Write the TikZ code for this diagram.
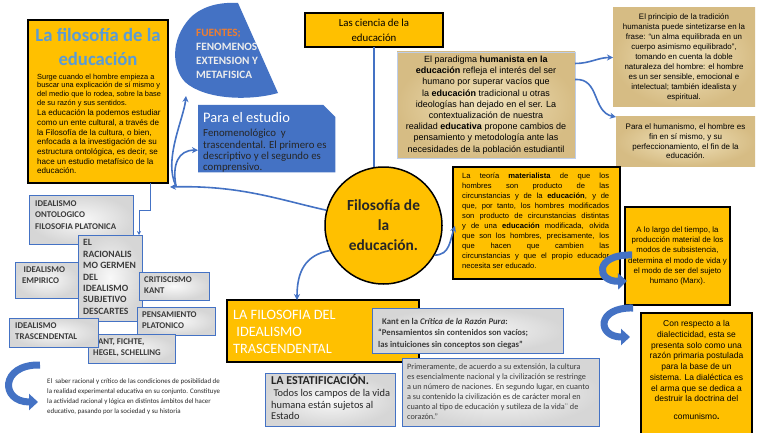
\documentclass[tikz,border=0pt]{standalone}
\usepackage{fontspec}
\setmainfont{Carlito}
\newfontfamily\arial{Liberation Sans}
\usetikzlibrary{arrows.meta}
\definecolor{yel}{HTML}{FFC000}
\definecolor{blu}{HTML}{4472C4}
\definecolor{ttl}{HTML}{5B9BD5}
\definecolor{org}{HTML}{ED7D31}
\definecolor{papin}{HTML}{F1E3BC}
\definecolor{papout}{HTML}{D6BC84}
\definecolor{dk}{HTML}{262626}
\definecolor{mtx}{HTML}{3B3B3B}
\newcommand{\fs}[2]{\fontsize{#1}{#2}\selectfont}
\begin{document}
\begin{tikzpicture}[x=1pt,y=-1pt,
 ybox/.style={draw=black,line width=1.8pt,fill=yel,anchor=north west,inner sep=0pt,outer sep=0pt},
 paper/.style={inner color=papin,outer color=papout,anchor=north west,inner sep=0pt,outer sep=0pt},
 marble/.style={draw=blu,line width=0.9pt,inner color=gray!5,outer color=gray!32,anchor=north west,inner sep=0pt,outer sep=0pt},
 tl/.style={anchor=north west,inner sep=0pt,align=left},
 tc/.style={inner sep=0pt,align=center},
 conn/.style={draw=blu,line width=1.6pt,-{Stealth[length=6pt,width=6pt]}},
 thinconn/.style={draw=blu,line width=0.8pt,-{Stealth[length=4pt,width=4pt]}},
 bigarrow/.style={draw=blu,line width=7pt,-{Triangle[length=9pt,width=16pt]}},
 mtext/.style={tl,font=\bfseries\fs{8.8}{11.5},text=mtx}
]
\useasboundingbox (0,0) rectangle (768,433);
\fill[white] (0,0) rectangle (768,433);

% FUENTES shape
\fill[blu] (238,3) -- (278,93) .. controls (250,101) and (205,100) .. (185,82)
  .. controls (172,68) and (170,40) .. (190,18) .. controls (203,5) and (222,2) .. (238,3) -- cycle;
\node[tl,font=\bfseries\fs{11.2}{14},text=white!85!gray] (fut) at (196,28.5) {\textcolor{org}{FUENTES;}\\FENOMENOS\\EXTENSION Y\\METAFISICA};
\coordinate (fuB) at (186,96);

% top-left box
\node[ybox,minimum width=140,minimum height=163] (b1) at (28,20) {};
\node[tc,anchor=north,font=\bfseries\fs{18.7}{24},text=ttl] (b1t) at (98,28) {La filosofía de la\\educación};
\node[tl,font=\arial\fs{7.4}{8.8}] (b1p) at (37,73.5) {Surge cuando el hombre empieza a\\buscar una explicación de sí mismo y\\del medio que lo rodea, sobre la base\\de su razón y sus sentidos.};
\node[tl,font=\arial\fs{8.1}{9.7}] (b1q) at (37,109.5) {La educación la podemos estudiar\\como un ente cultural, a través de\\la Filosofía de la cultura, o bien,\\enfocada a la investigación de su\\estructura ontológica, es decir, se\\hace un estudio metafísico de la\\educación.};

% Para el estudio
\node[anchor=north west,inner sep=0pt,minimum width=137,minimum height=67] (pe) at (198,105) {};
\fill[blu] (pe.north west) -- ([xshift=-12pt]pe.north east) -- ([yshift=-12pt]pe.north east) -- (pe.south east) -- (pe.south west) -- cycle;
\node[tl,font=\fs{14.5}{15},text=white] (pet) at (203,112) {Para el estudio};
\node[tl,font=\fs{10.8}{11.4},text=dk] (peb) at (203,129) {Fenomenológico\ \ y\\trascendental. El primero es\\descriptivo y el segundo es\\comprensivo.};

% Las ciencia
\node[ybox,minimum width=138,minimum height=34] (lc) at (305,13) {};
\node[tc,font=\fs{10.8}{15}] (lct) at (lc.center) {Las ciencia de la\\educación};

% paradigm
\node[paper,draw=blu!35,line width=0.8pt,minimum width=178,minimum height=106] (pb) at (397,52) {};
\node[tc,font=\arial\fs{9}{11.2}] (pbt) at (pb.center) {El paradigma \textbf{humanista en la}\\\textbf{educación} refleja el interés del ser\\humano por superar vacíos que\\la \textbf{educación} tradicional u otras\\ideologías han dejado en el ser. La\\contextualización de nuestra\\realidad \textbf{educativa} propone cambios de\\pensamiento y metodología ante las\\necesidades de la población estudiantil};

% right papyrus boxes
\node[paper,minimum width=142,minimum height=99] (r1) at (613,8) {};
\node[tc,font=\arial\fs{7.9}{9.9}] (r1t) at (r1.center) {El principio de la tradición\\humanista puede sintetizarse en la\\frase: “un alma equilibrada en un\\cuerpo asimismo equilibrado”,\\tomando en cuenta la doble\\naturaleza del hombre: el hombre\\es un ser sensible, emocional e\\intelectual; también idealista y\\espiritual.};
\node[paper,minimum width=139,minimum height=49] (r2) at (616,117) {};
\node[tc,font=\arial\fs{8}{9.7}] (r2t) at (r2.center) {Para el humanismo, el hombre es\\fin en sí mismo, y su\\perfeccionamiento, el fin de la\\educación.};
\draw[conn] (pb.25) to[out=0,in=180] (r1.west);
\draw[conn] (pb.16) .. controls (600,78) and (592,112) .. (r2.north west);

% materialista
\node[ybox,minimum width=167,minimum height=112] (mb) at (453,167) {};
\node[tl,text width=147pt,align=justify,font=\arial\fs{7.6}{10}] (mbt) at (462,172.5) {La teoría \textbf{materialista} de que los\linebreak hombres son producto de las\linebreak circunstancias y de la \textbf{educación}, y de\linebreak que, por tanto, los hombres modificados\linebreak son producto de circunstancias distintas\linebreak y de una \textbf{educación} modificada, olvida\linebreak que son los hombres, precisamente, los\linebreak que hacen que cambien las\linebreak circunstancias y que el propio educador\linebreak necesita ser educado.};

% A lo largo
\node[ybox,minimum width=105,minimum height=98] (ml) at (625,207) {};
\node[tc,font=\arial\fs{7.85}{10.2}] (mlt) at (ml.center) {A lo largo del tiempo, la\\producción material de los\\modos de subsistencia,\\determina el modo de vida y\\el modo de ser del sujeto\\humano (Marx).};

% Con respecto
\node[ybox,minimum width=111,minimum height=130] (cr) at (641,313) {};
\node[tc,anchor=north,font=\arial\fs{8.5}{10.7}] (crt) at (696.5,320.5) {Con respecto a la\\dialecticidad, esta se\\presenta solo como una\\razón primaria postulada\\para la base de un\\sistema. La dialéctica es\\el arma que se dedica a\\destruir la doctrina del\\[7pt]comunismo\textbf{.}};

% thick curved arrows
\coordinate (a1s) at (632,255); \coordinate (a1e) at (627,281);
\draw[bigarrow] (a1s) .. controls (594,254) and (596,282) .. (a1e);
\coordinate (a2s) at (633,308); \coordinate (a2e) at (630,337);
\draw[bigarrow] (a2s) .. controls (596,307) and (597,337) .. (a2e);
\coordinate (a3s) at (40,365); \coordinate (a3e) at (38,402);
\draw[bigarrow] (a3s) .. controls (0,364) and (0,402) .. (a3e);

% central circle
\draw[blu,line width=2pt] (lc.south) -- (lc.south |- 0,170);
\node[circle,draw=black,line width=1.5pt,fill=yel,minimum size=117,inner sep=0pt,font=\bfseries\fs{15.4}{20},align=center,text=dk] (fc) at (383.5,225.5) {Filosofía de\\la\\educación.};

% idealismo trascendental
\node[ybox,minimum width=192,minimum height=62] (it) at (227,300) {};
\node[tl,font=\fs{14.3}{17},text=white] (itt) at (233,310.5) {LA FILOSOFIA DEL\\\ IDEALISMO\\TRASCENDENTAL};

% connectors from circle
\draw[conn] (fc.165) .. controls (280,200) and (240,185) .. ([xshift=2pt,yshift=-4pt]b1.south east);
\coordinate (jn) at (176,186);
\draw[conn] (jn) .. controls (163,160) and (184,118) .. (fuB);
\draw[conn] (jn) .. controls (172,165) and (178,150) .. ([yshift=-11.5pt]pe.west);
\draw[conn] (fc.205) .. controls (305,255) and (297,272) .. ([xshift=-26pt]it.north);
\draw[conn] (fc.-30) .. controls (450,255) and (450,240) .. ([xshift=2pt,yshift=-3pt]mb.west);

% marble boxes bottom
\node[marble,minimum width=191,minimum height=45] (kb) at (372,308) {};
\node[tl,font=\bfseries\fs{8.7}{11.5},text=mtx] (kbt) at (378,318) {\hspace*{4pt}Kant en la \textit{Crítica de la Razón Pura}:\\“Pensamientos sin contenidos son vacíos;\\las intuiciones sin conceptos son ciegas”};
\node[marble,minimum width=197,minimum height=68] (pr) at (402,358) {};
\node[tl,font=\fs{8.2}{10},text=mtx] (prt) at (407,363.5) {Primeramente, de acuerdo a su extensión, la cultura\\es esencialmente nacional y la civilización se restringe\\a un número de naciones. En segundo lugar, en cuanto\\a su contenido la civilización es de carácter moral en\\cuanto al tipo de educación y sutileza de la vida¨ de\\corazón.”};
\node[marble,minimum width=130,minimum height=53] (es) at (265,373) {};
\node[tl,font=\bfseries\fs{12}{12},text=dk] (est) at (271,374) {LA ESTATIFICACIÓN.};
\node[tl,font=\fs{10.4}{11.5},text=dk] (esb) at (271,389.5) {\ Todos los campos de la vida\\humana están sujetos al\\Estado};

% left marble boxes
\node[marble,minimum width=104,minimum height=49] (on) at (29,195) {};
\node[mtext] (ont) at (35,200.5) {IDEALISMO\\ONTOLOGICO\\FILOSOFIA PLATONICA};
\node[marble,minimum width=63,minimum height=36] (em) at (15,262) {};
\node[mtext] (emt) at (22,266.5) {\,IDEALISMO\\EMPIRICO};
\node[marble,minimum width=64,minimum height=86] (rc) at (78,235) {};
\node[mtext,font=\bfseries\fs{9.6}{11.4}] (rct) at (83,239.5) {EL\\RACIONALIS\\MO GERMEN\\DEL\\IDEALISMO\\SUBJETIVO\\DESCARTES};
\node[marble,minimum width=70,minimum height=28] (cs) at (139,272) {};
\node[mtext] (cst) at (144,276.5) {CRITISCISMO\\KANT};
\node[marble,minimum width=78,minimum height=28] (pn) at (137,307) {};
\node[mtext] (pnt) at (142,311.5) {PENSAMIENTO\\PLATONICO};
\node[marble,minimum width=87,minimum height=29] (kf) at (88,334) {};
\node[mtext] (kft) at (93,338.5) {KANT, FICHTE,\\HEGEL, SCHELLING};
\node[marble,minimum width=89,minimum height=29] (tr) at (9,318) {};
\node[mtext] (trt) at (15,322.5) {IDEALISMO\\TRASCENDENTAL};
\draw[thinconn] ([xshift=-18pt]b1.south east) |- ([xshift=-3pt,yshift=25pt]rc.north east) -- ([xshift=-3pt]rc.north east);

% bottom-left text
\node[tl,font=\fs{6.9}{10},text=dk] (blt) at (47,379) {El\ \ saber racional y crítico de las condiciones de posibilidad de\\la realidad experimental educativa en su conjunto. Constituye\\la actividad racional y lógica en distintos ámbitos del hacer\\educativo, pasando por la sociedad y su historia};
\end{tikzpicture}
\end{document}
